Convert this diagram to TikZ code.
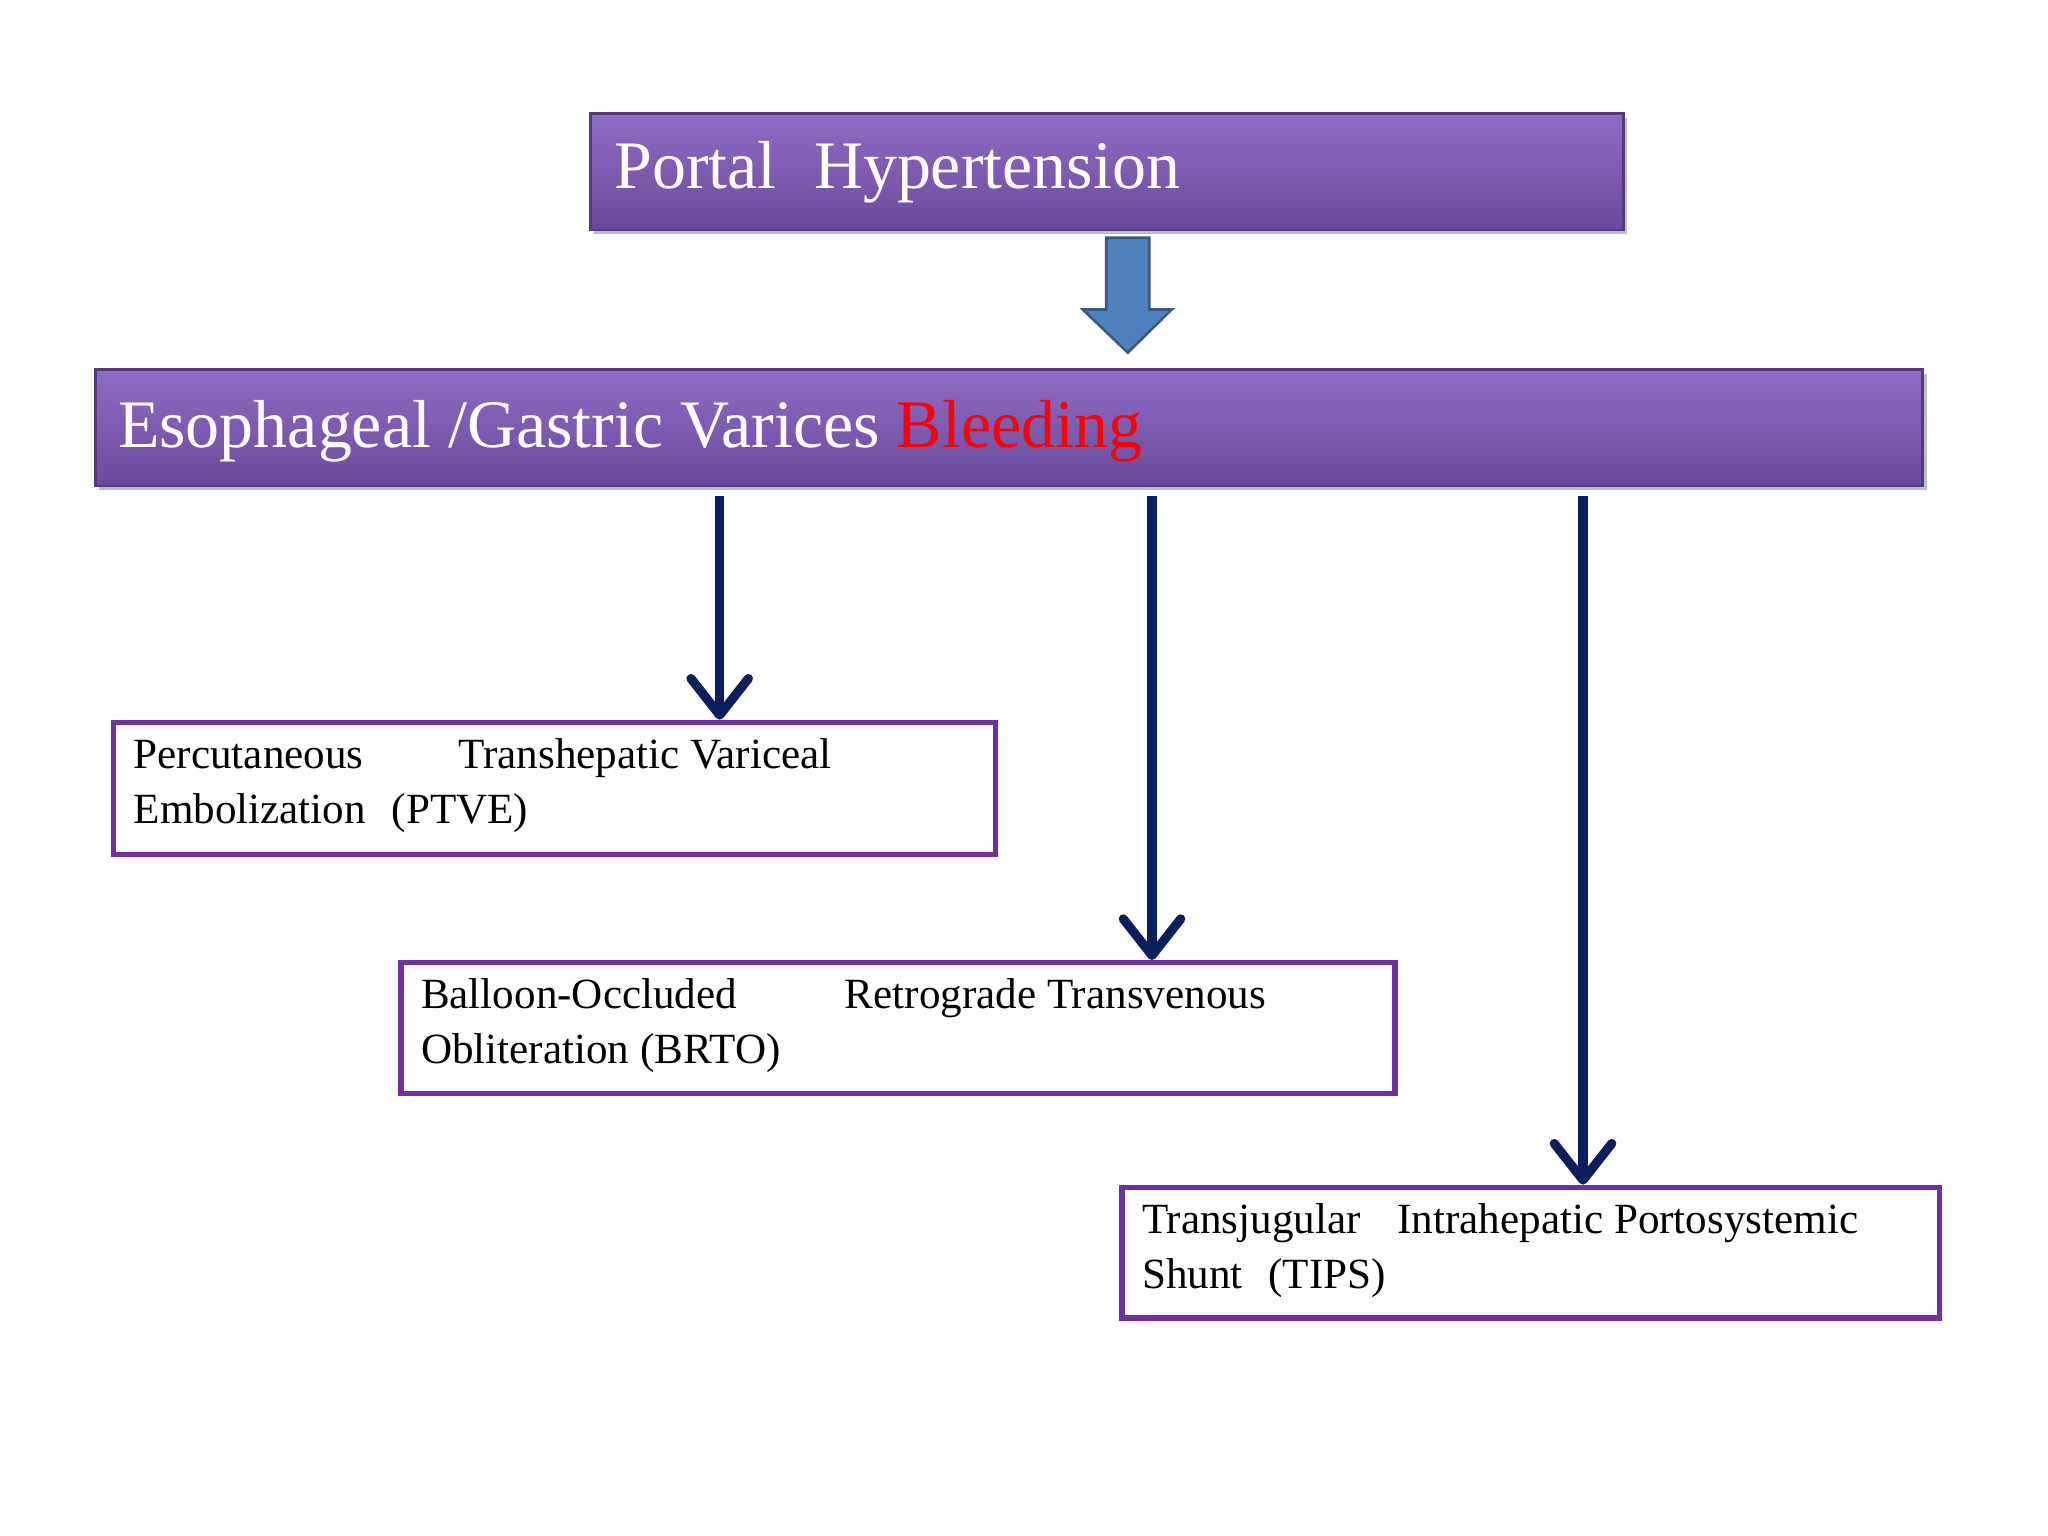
\documentclass[tikz,border=0pt]{standalone}
\usepackage{fontspec}
\setmainfont{Liberation Serif}
\usetikzlibrary{arrows.meta,shapes.arrows}
\definecolor{navy}{HTML}{0A1F5C}
\definecolor{boxpurple}{HTML}{7030A0}
\definecolor{ptop}{HTML}{8E6CC4}
\definecolor{pbot}{HTML}{6A4A9E}
\definecolor{blk}{HTML}{4F81BD}
\begin{document}
\begin{tikzpicture}[x=0.5pt,y=-0.5pt,
  banner/.style={draw=pbot!80!black,line width=1pt,top color=ptop,bottom color=pbot,inner sep=0pt},
  btext/.style={anchor=west,text=white,font=\fontsize{26}{30}\selectfont,inner sep=0pt},
  tbox/.style={draw=boxpurple,line width=2pt,fill=white,inner sep=0pt},
  ttext/.style={anchor=north west,align=left,font=\fontsize{16.5}{21}\selectfont,inner sep=0pt},
  arr/.style={draw=navy,line width=3.5pt,-{Straight Barb[length=14pt,width=22pt,line width=3.5pt,round]}}]
\useasboundingbox (0,0) rectangle (1568,1176);
\fill[white] (0,0) rectangle (1568,1176);
% banners
\fill[black!25] (455,90) rectangle (1246,179);
\node[banner,minimum width=395.5pt,minimum height=44.5pt,anchor=north west] (ph) at (451,86) {};
\node[btext] (pht) at (470,132) {Portal\hspace{0.3em} Hypertension};
\fill[black!25] (76,286) rectangle (1475,375);
\node[banner,minimum width=699.5pt,minimum height=44.5pt,anchor=north west] (ev) at (72,282) {};
\node[btext] (evt) at (90,330) {Esophageal /Gastric Varices \textcolor{red}{Bleeding}};
% block arrow
\draw[blk!70!black,line width=1pt,fill=blk] (847,182) -- (880,182) -- (880,237) -- (897,237) -- (863.5,270) -- (829,237) -- (847,237) -- cycle;
% boxes
\node[tbox,minimum width=337.5pt,minimum height=50.5pt,anchor=north west] (b1) at (85,551) {};
\node[ttext] (t1) at (102,565) {Percutaneous\hspace{2.2em}Transhepatic Variceal\\Embolization\hspace{0.6em}(PTVE)};
\node[tbox,minimum width=380.5pt,minimum height=50pt,anchor=north west] (b2) at (305,735) {};
\node[ttext] (t2) at (322,749) {Balloon-Occluded\hspace{2.5em}Retrograde Transvenous\\Obliteration (BRTO)};
\node[tbox,minimum width=313pt,minimum height=50pt,anchor=north west] (b3) at (857,907) {};
\node[ttext] (t3) at (874,921) {Transjugular\hspace{0.6em} Intrahepatic Portosystemic\\Shunt\hspace{0.6em}(TIPS)};
% arrows
\coordinate (s1) at (551,380);
\coordinate (s2) at (882,380);
\coordinate (s3) at (1212,380);
\draw[arr] (s1) -- (b1.north -| s1);
\draw[arr] (s2) -- (b2.north -| s2);
\draw[arr] (s3) -- (b3.north -| s3);
\end{tikzpicture}
\end{document}
